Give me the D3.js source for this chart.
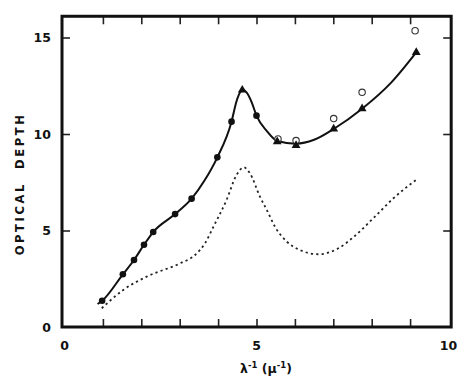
<!DOCTYPE html>
<html><head><meta charset="utf-8">
<script src="https://cdn.jsdelivr.net/npm/d3@7"></script>
<style>
body{margin:0;background:#fff;}
svg{display:block;}
text{font-family:"DejaVu Sans",sans-serif;font-weight:bold;fill:#111;}
</style></head><body>
<svg id="c" width="474" height="383"></svg>
<script>
// ---- data ----
const xTicks = [1,2,3,4,5,6,7,8,9];
const xTickLabels = [0,5,10];
const yTicks = [5,10,15];
const yTickLabels = [0,5,10,15];

const filledCircles = [[0.98,1.36],[1.52,2.73],[1.81,3.47],[2.07,4.26],[2.31,4.92],[2.88,5.85],[3.31,6.65],[3.98,8.79],[4.35,10.64],[5.0,10.95]];
const triangles = [[4.63,12.28],[5.54,9.6],[6.03,9.41],[7.01,10.26],[7.75,11.31],[9.16,14.23]];
const openCircles = [[5.56,9.74],[6.03,9.66],[7.01,10.8],[7.75,12.16],[9.13,15.35]];

const solidCurve = [[0.86,1.19],[0.98,1.36],[1.52,2.73],[1.81,3.47],[2.07,4.26],[2.31,4.92],[2.88,5.85],[3.31,6.65],[3.65,7.6],[3.98,8.79],[4.35,10.64],[4.48,11.7],[4.57,12.15],[4.65,12.28],[4.74,12.16],[4.87,11.67],[5.0,10.95],[5.27,10.15],[5.54,9.64],[6.03,9.5],[6.5,9.7],[7.01,10.26],[7.75,11.31],[8.5,12.65],[9.16,14.23]];
const dashedCurve = [[0.97,0.97],[1.53,1.92],[2.14,2.61],[3.01,3.3],[3.4,3.73],[3.66,4.34],[3.88,5.2],[4.22,6.58],[4.48,7.88],[4.67,8.27],[4.83,7.96],[5.09,6.75],[5.27,6.06],[5.48,5.2],[5.79,4.42],[6.13,3.99],[6.61,3.77],[7.09,4.03],[7.52,4.65],[8.04,5.63],[8.56,6.66],[9.21,7.7]];

// ---- layout ----
const svg = d3.select("#c");
const x = d3.scaleLinear().domain([0,10]).range([64.5,448.5]);
const y = d3.scaleLinear().domain([0,15]).range([327,37.5]);
const xMin=-0.065, xMax=10.07, yMin=0, yMax=16.1;
const L=x(xMin), R=x(xMax), T=y(yMax), B=y(yMin);

// ticks (inward)
const tk = 8;
svg.append("g").attr("transform",`translate(0,${B})`)
  .call(d3.axisBottom(x).tickValues(xTicks).tickSize(-tk).tickFormat(""));
svg.append("g").attr("transform",`translate(0,${T})`)
  .call(d3.axisTop(x).tickValues(xTicks).tickSize(-tk).tickFormat(""));
svg.append("g").attr("transform",`translate(${L},0)`)
  .call(d3.axisLeft(y).tickValues(yTicks).tickSize(-tk).tickFormat(""));
svg.append("g").attr("transform",`translate(${R},0)`)
  .call(d3.axisRight(y).tickValues(yTicks).tickSize(-tk).tickFormat(""));
svg.selectAll(".domain").remove();
svg.selectAll(".tick line").attr("stroke","#222").attr("stroke-width",1.6);

// frame
svg.append("rect").attr("x",L).attr("y",T).attr("width",R-L).attr("height",B-T)
  .attr("fill","none").attr("stroke","#111").attr("stroke-width",3);

// tick labels
svg.selectAll(".xl").data(xTickLabels).enter().append("text")
  .attr("x",d=>x(d)).attr("y",B+23).attr("text-anchor","middle")
  .attr("font-size",12.5).text(d=>d);
svg.selectAll(".yl").data(yTickLabels).enter().append("text")
  .attr("x",51).attr("y",d=>y(d)+4.5).attr("text-anchor","end")
  .attr("font-size",12.5).text(d=>d);

// axis titles
const xt = svg.append("text").attr("x",266).attr("y",373).attr("text-anchor","middle").attr("font-size",12.5);
xt.append("tspan").text("λ");
xt.append("tspan").attr("dy",-5).attr("font-size",8.5).text("-1");
xt.append("tspan").attr("dy",5).text(" (μ");
xt.append("tspan").attr("dy",-5).attr("font-size",8.5).text("-1");
xt.append("tspan").attr("dy",5).text(")");

svg.append("text").attr("transform","translate(24,184) rotate(-90)")
  .attr("text-anchor","middle").attr("font-size",11.5).attr("letter-spacing",2.6)
  .attr("xml:space","preserve").text("OPTICAL  DEPTH");

// curves
const line = d3.line().x(d=>x(d[0])).y(d=>y(d[1])).curve(d3.curveMonotoneX);
svg.append("path").attr("d",line(dashedCurve)).attr("fill","none")
  .attr("stroke","#222").attr("stroke-width",1.8).attr("stroke-dasharray","2.2,3.2");
svg.append("path").attr("d",line(solidCurve)).attr("fill","none")
  .attr("stroke","#111").attr("stroke-width",2);

// markers
svg.selectAll(".fc").data(filledCircles).enter().append("circle")
  .attr("cx",d=>x(d[0])).attr("cy",d=>y(d[1])).attr("r",3.3).attr("fill","#111");
svg.selectAll(".oc").data(openCircles).enter().append("circle")
  .attr("cx",d=>x(d[0])).attr("cy",d=>y(d[1])).attr("r",3.2).attr("fill","#fff")
  .attr("stroke","#333").attr("stroke-width",1.1);
const tri = d3.symbol().type(d3.symbolTriangle).size(34);
svg.selectAll(".tr").data(triangles).enter().append("path")
  .attr("d",tri).attr("transform",d=>`translate(${x(d[0])},${y(d[1])})`).attr("fill","#111");
</script>
</body></html>
